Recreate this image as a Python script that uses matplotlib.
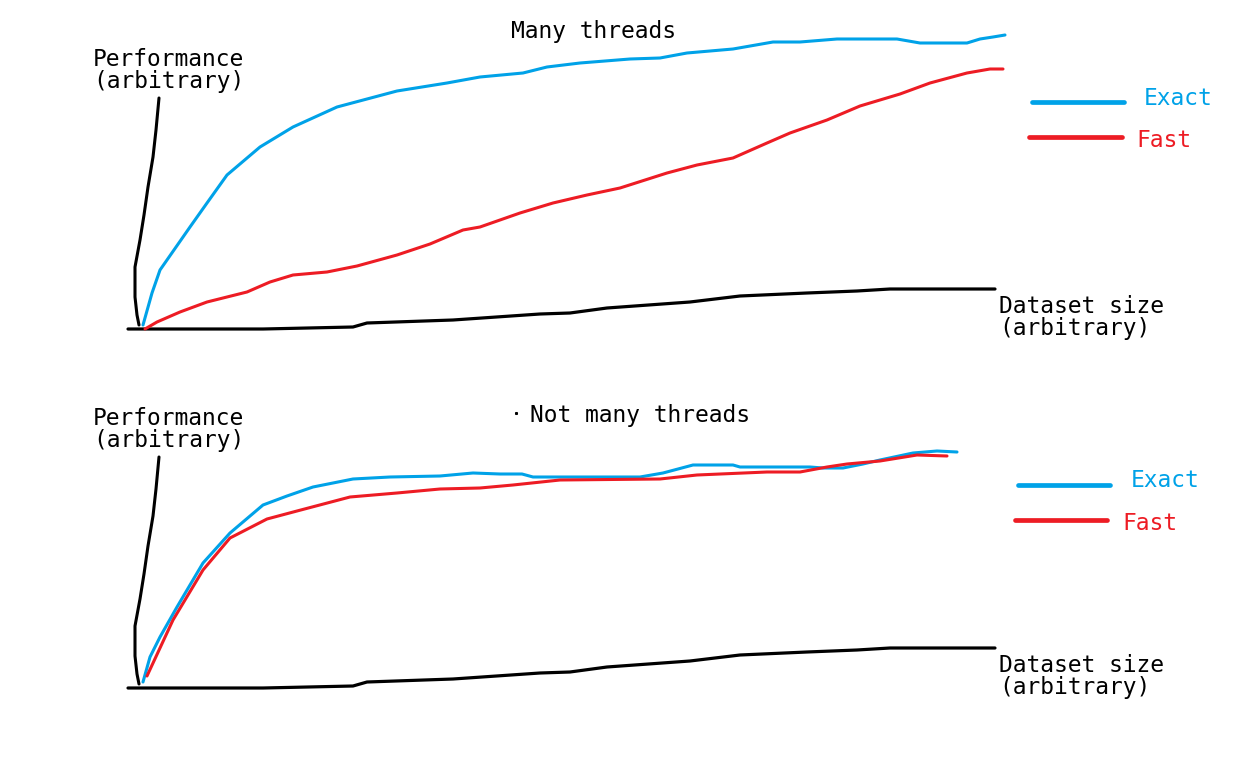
import matplotlib.pyplot as plt


BLUE = "#00A2E8"
RED = "#ED1C24"
FONT = "DejaVu Sans Mono"

# hand-drawn axis strokes (same sketch reused in both panels)
x_axis_x = [-2, 133, 223, 237, 323, 410, 440, 477, 560, 610, 677, 727, 760, 865]
x_axis_y = [0, 0, 2, 6, 9, 15, 16, 21, 27, 33, 36, 38, 40, 40]
y_axis_x = [29, 26, 23, 18, 14, 10, 5, 5, 7, 9]
y_axis_y = [231, 199, 172, 142, 114, 89, 62, 32, 14, 4]

# "Many threads"
many_exact_x = [13, 22, 30, 60, 77, 97, 130, 163, 207, 267, 317, 350, 393, 417,
                450, 500, 530, 557, 603, 643, 670, 707, 750, 767, 790, 837,
                850, 863, 875]
many_exact_y = [4, 36, 59, 102, 126, 154, 182, 202, 222, 238, 246, 252, 256, 262,
                266, 270, 271, 276, 280, 287, 287, 290, 290, 290, 286, 286,
                290, 292, 294]
many_fast_x = [15, 27, 50, 77, 117, 140, 163, 197, 227, 267, 300, 333, 350, 390,
               423, 457, 490, 537, 567, 603, 637, 660, 697, 730, 770, 800,
               837, 860, 873]
many_fast_y = [0, 7, 17, 27, 37, 47, 54, 57, 63, 74, 85, 99, 102, 116,
               126, 134, 141, 156, 164, 171, 186, 196, 209, 223, 235, 246,
               256, 260, 260]

# "Not many threads"
few_exact_x = [13, 20, 30, 47, 73, 100, 133, 157, 183, 223, 260, 310, 343, 370,
               392, 403, 510, 533, 563, 603, 610, 680, 693, 713, 733, 750,
               783, 807, 827]
few_exact_y = [6, 31, 51, 81, 125, 155, 183, 192, 201, 209, 211, 212, 215, 214,
               214, 211, 211, 215, 223, 223, 221, 221, 220, 220, 224, 228,
               235, 237, 236]
few_fast_x = [17, 43, 73, 100, 137, 167, 220, 267, 310, 350, 383, 430, 530, 567,
              637, 670, 697, 717, 750, 787, 817]
few_fast_y = [12, 68, 118, 150, 169, 177, 191, 195, 199, 200, 203, 208, 209, 213,
              216, 216, 221, 224, 227, 233, 232]

series_labels = ["Exact", "Fast"]


def draw_panel(ax, title, title_x, title_y, exact, fast, legend):
    ax.set_xlim(-130, 1119)
    ax.set_ylim(-30, 329)
    ax.axis("off")

    ax.plot(x_axis_x, x_axis_y, color="black", lw=2.3, solid_capstyle="round")
    ax.plot(y_axis_x, y_axis_y, color="black", lw=2.2, solid_capstyle="round")

    ax.plot(exact[0], exact[1], color=BLUE, lw=2.2, solid_capstyle="round")
    ax.plot(fast[0], fast[1], color=RED, lw=2.2, solid_capstyle="round")

    ax.text(title_x, title_y, title, fontsize=16.5, family=FONT, va="baseline")
    # va="baseline" on multi-line text anchors the last line
    ax.text(-37, 241, "Performance\n(arbitrary)", fontsize=16.5, family=FONT,
            va="baseline", linespacing=0.95)
    ax.text(869, -6, "Dataset size\n(arbitrary)", fontsize=16.5, family=FONT,
            va="baseline", linespacing=0.95)

    for (x0, x1, y, tx, ty), label, color in zip(legend, series_labels, [BLUE, RED]):
        ax.plot([x0, x1], [y, y], color=color, lw=3.4, solid_capstyle="round")
        ax.text(tx, ty, label, color=color, fontsize=16.5, family=FONT,
                va="baseline")


fig = plt.figure(figsize=(12.49, 7.58), dpi=100)

ax_top = fig.add_axes([0, 399 / 758, 1, 359 / 758])
draw_panel(
    ax_top,
    "Many threads",
    381,
    291,
    (many_exact_x, many_exact_y),
    (many_fast_x, many_fast_y),
    [(902, 994, 227, 1014, 224), (899, 992, 192, 1006, 182)],
)

ax_bottom = fig.add_axes([0, 40 / 758, 1, 359 / 758])
draw_panel(
    ax_bottom,
    "Not many threads",
    400,
    266,
    (few_exact_x, few_exact_y),
    (few_fast_x, few_fast_y),
    [(888, 980, 203, 1001, 201), (885, 977, 168, 992, 158)],
)
# stray pixel left of the bottom title
ax_bottom.plot([386], [275], "s", color="black", markersize=1.2)

fig.savefig("out.png", dpi=100)
